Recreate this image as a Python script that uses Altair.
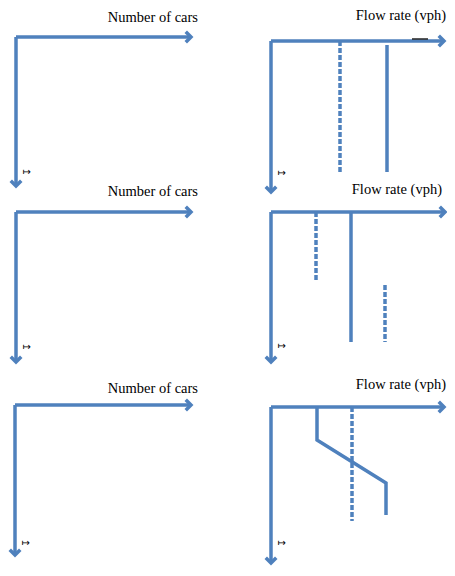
import pandas as pd
import altair as alt

# Diagram units = reference pixels; each panel is given by its origin
panel_name = ["cars_1", "cars_2", "cars_3", "flow_1", "flow_2", "flow_3"]
origin_x = [16, 16, 15, 271, 271, 271]
origin_y = [37, 212, 405, 41, 212, 407]
axis_x_len = [175, 175, 176, 173, 174, 173]
axis_y_len = [149, 150, 150, 151, 150, 156]
title_text = ["Number of cars"] * 3 + ["Flow rate (vph)"] * 3
title_right = [198, 198, 198, 446, 442, 446]
title_y = [18, 192, 389, 16, 190, 385]
time_dx = [11, 11, 11, 11, 11, 11]
time_dy = [135, 135, 138, 132, 134, 136]

# Trajectory vertices in the flow panels, relative to the panel origin
traj_id = ["d1", "d1", "s1", "s1", "d2a", "d2a", "s2", "s2", "d2b", "d2b",
           "s3", "s3", "s3", "s3", "d3", "d3"]
traj_panel = [3, 3, 3, 3, 4, 4, 4, 4, 4, 4, 5, 5, 5, 5, 5, 5]
traj_dx = [69, 69, 116, 116, 45, 45, 80, 80, 114, 114, 46, 46, 115, 115, 81, 81]
traj_dy = [0, 131, 4, 131, 0, 70, 0, 130, 73, 130, 0, 33, 76, 108, 0, 114]

BLUE = "#4F81BD"

axes = pd.DataFrame(
    [dict(x=ox, y=oy, x2=ox + xl, y2=oy) for ox, oy, xl in zip(origin_x, origin_y, axis_x_len)]
    + [dict(x=ox, y=oy, x2=ox, y2=oy + yl) for ox, oy, yl in zip(origin_x, origin_y, axis_y_len)]
)
heads = pd.DataFrame(
    [dict(x=ox + xl, y=oy, angle=0) for ox, oy, xl in zip(origin_x, origin_y, axis_x_len)]
    + [dict(x=ox, y=oy + yl, angle=90) for ox, oy, yl in zip(origin_x, origin_y, axis_y_len)]
)
titles = pd.DataFrame({"x": title_right, "y": title_y, "text": title_text})
times = pd.DataFrame({
    "x": [ox + d for ox, d in zip(origin_x, time_dx)],
    "y": [oy + d for oy, d in zip(origin_y, time_dy)],
})
traj = pd.DataFrame({
    "id": traj_id,
    "order": range(len(traj_id)),
    "x": [origin_x[p] + d for p, d in zip(traj_panel, traj_dx)],
    "y": [origin_y[p] + d for p, d in zip(traj_panel, traj_dy)],
})
traj["dashed"] = traj["id"].str.startswith("d")
tick = pd.DataFrame({"x": [origin_x[3] + 141], "x2": [origin_x[3] + 157], "y": [origin_y[3] - 2]})

xs = alt.Scale(domain=[8, 447], nice=False, zero=False)
ys = alt.Scale(domain=[8, 568], nice=False, zero=False, reverse=True)
X = alt.X("x:Q", scale=xs, axis=None)
Y = alt.Y("y:Q", scale=ys, axis=None)

axis_lines = alt.Chart(axes).mark_rule(color=BLUE, strokeWidth=3.5).encode(
    x=X, y=Y, x2="x2:Q", y2="y2:Q"
)
arrow_heads = alt.Chart(heads).mark_point(
    shape="M-1,-1L0,0L-1,1", filled=False, color=BLUE, strokeWidth=3.5,
    size=110, opacity=1, strokeJoin="miter"
).encode(x=X, y=Y, angle=alt.Angle("angle:Q", scale=None))

solid = alt.Chart(traj[~traj["dashed"]]).mark_line(color=BLUE, strokeWidth=3.5).encode(
    x=X, y=Y, detail="id:N", order="order:Q"
)
dashed = alt.Chart(traj[traj["dashed"]]).mark_line(
    color=BLUE, strokeWidth=3.5, strokeDash=[5, 2]
).encode(x=X, y=Y, detail="id:N", order="order:Q")

small_tick = alt.Chart(tick).mark_rule(color="#222222", strokeWidth=1.5).encode(
    x=X, x2="x2:Q", y=Y
)

title_marks = alt.Chart(titles).mark_text(
    align="right", baseline="middle", font="Liberation Serif", fontSize=14.5, color="black"
).encode(x=X, y=Y, text="text:N")

time_marks = alt.Chart(times).mark_text(
    align="center", baseline="middle", font="DejaVu Sans", fontSize=10, color="black", text="↦"
).encode(x=X, y=Y)

chart = alt.layer(
    axis_lines, arrow_heads, solid, dashed, small_tick, title_marks, time_marks
).properties(
    width=439, height=560, padding=0, autosize=alt.AutoSizeParams(type="none")
).configure_view(stroke=None)

chart.save("out.html", embed_options={"renderer": "svg", "actions": False})
